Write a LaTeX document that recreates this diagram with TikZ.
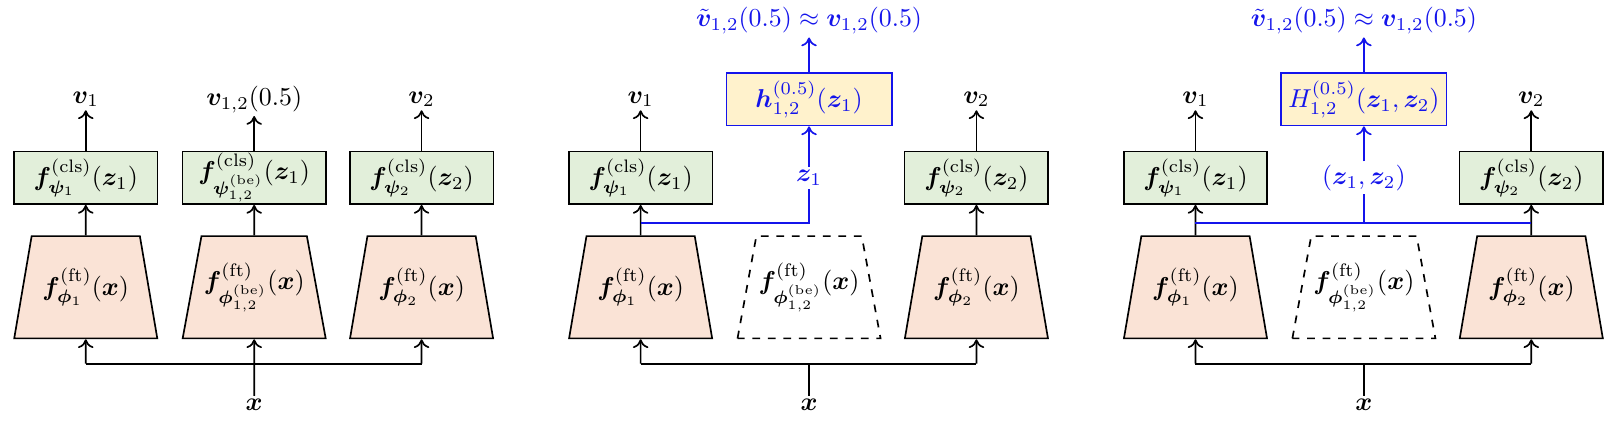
\documentclass[tikz,border=0pt]{standalone}
\usepackage{amsmath,bm}
\usetikzlibrary{shapes.geometric,arrows.meta}
\definecolor{clsgreen}{HTML}{E2EFDA}
\definecolor{ftorange}{HTML}{FAE3D6}
\definecolor{hyellow}{HTML}{FFF2CC}
\definecolor{hblue}{RGB}{20,20,235}
\tikzset{
  every path/.style={line width=0.65pt},
  clsbox/.style={draw, fill=clsgreen, minimum width=55.6pt, minimum height=20.4pt, inner sep=0pt},
  hbox/.style={draw=hblue, fill=hyellow, text=hblue, minimum width=64pt, minimum height=20.4pt, inner sep=0pt},
  ftbox/.style={trapezium, trapezium stretches=true, draw, fill=ftorange, minimum width=55.6pt, minimum height=39.6pt, inner sep=0pt, trapezium left angle=70, trapezium right angle=70},
  ghost/.style={ftbox, fill=white, dashed},
  lbl/.style={inner sep=1pt},
  arr/.style={-{To[length=3.4pt,width=6pt]}},
}
\newcommand{\fcls}[2]{$\bm f^{(\mathrm{cls})}_{#1}(\bm z_{#2})$}
\newcommand{\fft}[1]{$\bm f^{(\mathrm{ft})}_{#1}(\bm x)$}
\begin{document}
\begin{tikzpicture}[x=0.4pt,y=-0.4pt]
\useasboundingbox (0,0) rectangle (1564,415);
% ---------- panel 1
\begin{scope}
\node[ftbox] (a1) at (83,278) {\fft{\bm\phi_1}};
\node[ftbox] (am) at (246,278) {\fft{\bm\phi^{(\mathrm{be})}_{1,2}}};
\node[ftbox] (a2) at (408,278) {\fft{\bm\phi_2}};
\node[clsbox] (c1) at (83,172) {\fcls{\bm\psi_1}{1}};
\node[clsbox] (cm) at (246,172) {\fcls{\bm\psi^{(\mathrm{be})}_{1,2}}{1}};
\node[clsbox] (c2) at (408,172) {\fcls{\bm\psi_2}{2}};
\node[lbl] (v1) at (83,96) {$\bm v_1$};
\node[lbl] (vm) at (246,96) {$\bm v_{1,2}(0.5)$};
\node[lbl] (v2) at (408,96) {$\bm v_2$};
\node[lbl] (x) at (246,392) {$\bm x$};
\coordinate (j1) at (83,352); \coordinate (j2) at (408,352);
\draw[arr] (x.north) -- (am.south);
\draw (j1) -- (j2);
\draw[arr] (j1) -- (a1.south);
\draw[arr] (j2) -- (a2.south);
\foreach \n in {1,m,2} {\draw[arr] (a\n.north) -- (c\n.south); \draw[arr] (c\n.north) -- (v\n.south);}
\end{scope}
% ---------- panel 2
\begin{scope}[shift={(537,0)}]
\node[ftbox] (b1) at (83,278) {\fft{\bm\phi_1}};
\node[ghost] (bm) at (246,278) {\fft{\bm\phi^{(\mathrm{be})}_{1,2}}};
\node[ftbox] (b2) at (408,278) {\fft{\bm\phi_2}};
\node[clsbox] (d1) at (83,172) {\fcls{\bm\psi_1}{1}};
\node[clsbox] (d2) at (408,172) {\fcls{\bm\psi_2}{2}};
\node[lbl] (w1) at (83,96) {$\bm v_1$};
\node[lbl] (w2) at (408,96) {$\bm v_2$};
\node[lbl, text=hblue] (bz) at (246,172) {$\bm z_1$};
\node[hbox] (bh) at (246,96) {$\bm h^{(0.5)}_{1,2}(\bm z_1)$};
\node[lbl, text=hblue] (bt) at (246,20) {$\tilde{\bm v}_{1,2}(0.5)\approx\bm v_{1,2}(0.5)$};
\node[lbl] (bx) at (246,392) {$\bm x$};
\coordinate (k1) at (83,352); \coordinate (k2) at (408,352);
\draw (bx.north) -- (bx.north |- k1);
\draw (k1) -- (k2);
\draw[arr] (k1) -- (b1.south);
\draw[arr] (k2) -- (b2.south);
\foreach \n in {1,2} {\draw[arr] (b\n.north) -- (d\n.south); \draw[arr] (d\n.north) -- (w\n.south);}
\coordinate (bj) at (83,216);
\draw[hblue] (bj) -| (bz.south);
\draw[hblue,arr] (bz.north) -- (bh.south);
\draw[hblue,arr] (bh.north) -- (bt.south);
\end{scope}
% ---------- panel 3
\begin{scope}[shift={(1074,0)}]
\node[ftbox] (e1) at (83,278) {\fft{\bm\phi_1}};
\node[ghost] (em) at (246,278) {\fft{\bm\phi^{(\mathrm{be})}_{1,2}}};
\node[ftbox] (e2) at (408,278) {\fft{\bm\phi_2}};
\node[clsbox] (g1) at (83,172) {\fcls{\bm\psi_1}{1}};
\node[clsbox] (g2) at (408,172) {\fcls{\bm\psi_2}{2}};
\node[lbl] (u1) at (83,96) {$\bm v_1$};
\node[lbl] (u2) at (408,96) {$\bm v_2$};
\node[lbl, text=hblue] (ez) at (246,172) {$(\bm z_1,\bm z_2)$};
\node[hbox] (eh) at (246,96) {$H^{(0.5)}_{1,2}(\bm z_1,\bm z_2)$};
\node[lbl, text=hblue] (et) at (246,20) {$\tilde{\bm v}_{1,2}(0.5)\approx\bm v_{1,2}(0.5)$};
\node[lbl] (ex) at (246,392) {$\bm x$};
\coordinate (m1) at (83,352); \coordinate (m2) at (408,352);
\draw (ex.north) -- (ex.north |- m1);
\draw (m1) -- (m2);
\draw[arr] (m1) -- (e1.south);
\draw[arr] (m2) -- (e2.south);
\foreach \n in {1,2} {\draw[arr] (e\n.north) -- (g\n.south); \draw[arr] (g\n.north) -- (u\n.south);}
\coordinate (ej1) at (83,216); \coordinate (ej2) at (408,216);
\draw[hblue] (ej1) -- (ej2);
\draw[hblue] (ez.south |- ej1) -- (ez.south);
\draw[hblue,arr] (ez.north) -- (eh.south);
\draw[hblue,arr] (eh.north) -- (et.south);
\end{scope}
\end{tikzpicture}
\end{document}
